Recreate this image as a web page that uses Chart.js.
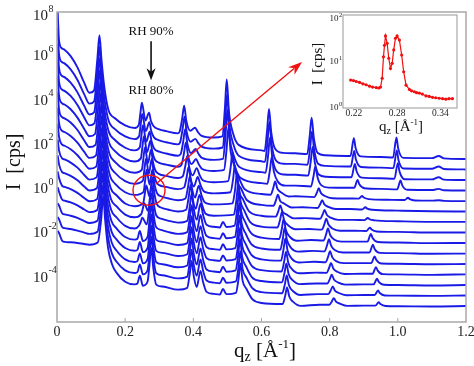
<!DOCTYPE html>
<html>
<head>
<meta charset="utf-8">
<script src="https://cdn.jsdelivr.net/npm/chart.js@4.4.0/dist/chart.umd.min.js"></script>
<style>
  html, body { margin: 0; padding: 0; background: #fff; }
  #wrap { position: relative; width: 474px; height: 366px; }
  #inset { position: absolute; left: 300px; top: 0; }
</style>
</head>
<body>
<div id="wrap">
  <canvas id="main" width="474" height="366"></canvas>
  <canvas id="inset" width="170" height="140"></canvas>
</div>
<script>
// Reflectivity scans as [qz, log10 I] (before stacking shift)
const scan0 = [[0.002,8.0],[0.006,6.7],[0.015,6.35],[0.022,6.3],[0.04,6.01],[0.06,5.5],[0.08,4.8],[0.095,4.35],[0.1085,4.45],[0.1185,5.9],[0.1245,6.95],[0.1305,5.85],[0.1385,4.65],[0.1505,3.6],[0.17,3.2],[0.2,2.88],[0.228,2.76],[0.24,2.9],[0.2445,3.41],[0.249,3.9],[0.2595,3.1],[0.27,3.45],[0.2755,3.09],[0.283,2.85],[0.3,2.7],[0.32,2.62],[0.355,2.52],[0.36,2.6],[0.3675,3.21],[0.373,3.77],[0.3795,3.08],[0.391,2.64],[0.405,2.77],[0.413,2.59],[0.423,2.42],[0.46,2.33],[0.485,2.38],[0.4925,3.63],[0.498,4.95],[0.5045,3.49],[0.516,2.55],[0.533,2.0],[0.6,1.75],[0.609,1.72],[0.6165,2.67],[0.622,3.62],[0.6285,2.58],[0.64,1.82],[0.662,1.64],[0.7,1.62],[0.734,1.58],[0.7415,2.41],[0.747,3.23],[0.7535,2.32],[0.765,1.63],[0.787,1.53],[0.85,1.5],[0.861,1.5],[0.871,2.3],[0.876,1.86],[0.891,1.48],[0.95,1.45],[0.986,1.43],[0.996,2.33],[1.001,1.84],[1.016,1.41],[1.1,1.4],[1.12,1.5],[1.135,1.39],[1.2,1.36]];
const scan1 = [[0.002,7.76],[0.006,6.56],[0.015,6.21],[0.022,6.16],[0.04,5.89],[0.06,5.41],[0.08,4.76],[0.095,4.34],[0.1088,4.44],[0.1188,5.86],[0.1248,6.91],[0.1308,5.81],[0.1388,4.61],[0.1508,3.6],[0.17,3.19],[0.2,2.86],[0.228,2.74],[0.241,2.88],[0.2455,3.39],[0.25,3.88],[0.2605,3.1],[0.271,3.5],[0.2765,3.1],[0.284,2.83],[0.3,2.68],[0.32,2.6],[0.355,2.5],[0.361,2.58],[0.3685,3.19],[0.374,3.75],[0.3805,3.06],[0.392,2.62],[0.406,2.75],[0.414,2.57],[0.424,2.4],[0.46,2.31],[0.486,2.36],[0.4935,3.53],[0.499,4.78],[0.5055,3.41],[0.517,2.53],[0.534,1.98],[0.6,1.74],[0.61,1.71],[0.6175,2.61],[0.623,3.51],[0.6295,2.52],[0.641,1.81],[0.663,1.63],[0.7,1.62],[0.735,1.58],[0.7425,2.33],[0.748,3.08],[0.7545,2.26],[0.766,1.63],[0.788,1.53],[0.85,1.5],[0.862,1.5],[0.872,2.2],[0.877,1.82],[0.892,1.48],[0.95,1.45],[0.987,1.43],[0.997,2.23],[1.002,1.79],[1.017,1.41],[1.1,1.4],[1.12,1.5],[1.135,1.39],[1.2,1.37]];
const scan2 = [[0.002,7.52],[0.006,6.42],[0.015,6.07],[0.022,6.02],[0.04,5.77],[0.06,5.33],[0.08,4.72],[0.095,4.33],[0.109,4.43],[0.119,5.82],[0.125,6.87],[0.131,5.77],[0.139,4.57],[0.151,3.6],[0.17,3.18],[0.2,2.83],[0.228,2.71],[0.243,2.85],[0.2475,3.36],[0.252,3.85],[0.262,3.1],[0.272,3.55],[0.2775,3.11],[0.285,2.8],[0.3,2.65],[0.32,2.57],[0.355,2.47],[0.363,2.55],[0.3705,3.13],[0.376,3.67],[0.3825,3.01],[0.393,2.59],[0.407,2.77],[0.415,2.56],[0.425,2.37],[0.46,2.28],[0.487,2.33],[0.4945,3.4],[0.5,4.55],[0.5065,3.29],[0.518,2.5],[0.535,1.96],[0.6,1.73],[0.612,1.7],[0.6195,2.5],[0.625,3.3],[0.6315,2.42],[0.643,1.8],[0.665,1.62],[0.7,1.61],[0.737,1.57],[0.7445,2.22],[0.75,2.87],[0.7565,2.16],[0.768,1.62],[0.79,1.52],[0.85,1.5],[0.864,1.5],[0.874,2.1],[0.879,1.77],[0.894,1.48],[0.95,1.45],[0.99,1.43],[1.0,2.13],[1.005,1.75],[1.02,1.41],[1.1,1.4],[1.12,1.5],[1.135,1.39],[1.2,1.37]];
const scan3 = [[0.002,7.28],[0.006,6.28],[0.015,5.93],[0.022,5.88],[0.04,5.65],[0.06,5.24],[0.08,4.68],[0.095,4.32],[0.11,4.42],[0.12,5.78],[0.126,6.83],[0.132,5.73],[0.14,4.53],[0.152,3.57],[0.17,3.16],[0.2,2.81],[0.228,2.69],[0.246,2.83],[0.2505,3.34],[0.255,3.83],[0.2645,3.11],[0.274,3.63],[0.2795,3.14],[0.287,2.78],[0.3,2.63],[0.32,2.55],[0.355,2.45],[0.365,2.53],[0.3725,3.06],[0.378,3.55],[0.3845,2.95],[0.395,2.57],[0.408,2.8],[0.416,2.56],[0.426,2.35],[0.46,2.26],[0.49,2.31],[0.4975,3.23],[0.503,4.23],[0.5095,3.13],[0.521,2.48],[0.538,1.95],[0.6,1.71],[0.617,1.68],[0.6245,2.28],[0.63,2.88],[0.6365,2.22],[0.648,1.78],[0.67,1.6],[0.7,1.6],[0.745,1.56],[0.7525,2.01],[0.758,2.46],[0.7645,1.97],[0.776,1.61],[0.798,1.51],[0.85,1.5],[0.872,1.5],[0.882,1.85],[0.887,1.66],[0.902,1.48],[0.95,1.45],[0.998,1.43],[1.008,1.83],[1.013,1.61],[1.028,1.41],[1.1,1.4],[1.12,1.45],[1.135,1.39],[1.2,1.38]];
const scan4 = [[0.002,7.04],[0.006,6.14],[0.015,5.79],[0.022,5.74],[0.04,5.53],[0.06,5.15],[0.08,4.64],[0.095,4.31],[0.1115,4.41],[0.1215,5.74],[0.1275,6.79],[0.1335,5.69],[0.1415,4.49],[0.1535,3.53],[0.17,3.15],[0.2,2.78],[0.228,2.66],[0.249,2.8],[0.2535,3.31],[0.258,3.8],[0.267,3.1],[0.276,3.7],[0.2815,3.15],[0.289,2.75],[0.3,2.6],[0.32,2.52],[0.355,2.42],[0.369,2.5],[0.3765,2.97],[0.382,3.42],[0.3885,2.87],[0.398,2.54],[0.41,2.87],[0.418,2.57],[0.428,2.32],[0.46,2.23],[0.502,2.28],[0.5095,2.9],[0.515,3.6],[0.5215,2.83],[0.533,2.45],[0.55,1.93],[0.6,1.7],[0.627,1.67],[0.6345,1.97],[0.64,2.27],[0.6465,1.94],[0.658,1.77],[0.68,1.59],[0.7,1.6],[0.755,1.56],[0.7625,1.76],[0.768,1.96],[0.7745,1.74],[0.786,1.61],[0.808,1.51],[0.85,1.5],[0.885,1.49],[0.895,1.61],[0.9,1.54],[0.915,1.47],[0.97,1.44],[1.02,1.43],[1.03,1.53],[1.035,1.47],[1.05,1.41],[1.1,1.4],[1.12,1.42],[1.135,1.39],[1.2,1.38]];
const scan5 = [[0.002,6.8],[0.006,6.0],[0.015,5.65],[0.022,5.6],[0.04,5.41],[0.06,5.07],[0.08,4.6],[0.095,4.3],[0.113,4.4],[0.123,5.7],[0.129,6.75],[0.135,5.65],[0.143,4.45],[0.155,3.49],[0.17,3.14],[0.2,2.76],[0.228,2.64],[0.252,2.78],[0.2565,3.29],[0.261,3.78],[0.2695,3.1],[0.278,3.76],[0.2835,3.17],[0.291,2.73],[0.3,2.58],[0.32,2.5],[0.355,2.4],[0.373,2.48],[0.3805,2.95],[0.386,3.4],[0.3925,2.85],[0.4015,2.52],[0.413,2.95],[0.421,2.59],[0.431,2.3],[0.46,2.21],[0.509,2.26],[0.5165,2.83],[0.522,3.48],[0.5285,2.77],[0.54,2.43],[0.557,1.91],[0.6,1.69],[0.635,1.65],[0.6425,1.9],[0.648,2.15],[0.6545,1.88],[0.666,1.75],[0.688,1.57],[0.72,1.58],[0.765,1.55],[0.7725,1.73],[0.778,1.9],[0.7845,1.71],[0.796,1.6],[0.818,1.5],[0.86,1.5],[0.895,1.48],[0.905,1.58],[0.91,1.52],[0.925,1.47],[1.0,1.43],[1.1,1.4],[1.2,1.39]];
const scan6 = [[0.002,6.56],[0.006,5.86],[0.015,5.51],[0.022,5.46],[0.04,5.28],[0.06,4.98],[0.08,4.56],[0.095,4.29],[0.114,4.39],[0.124,5.66],[0.13,6.71],[0.136,5.61],[0.144,4.41],[0.156,3.46],[0.17,3.13],[0.2,2.74],[0.228,2.62],[0.254,2.76],[0.2585,3.27],[0.263,3.76],[0.2715,3.09],[0.28,3.76],[0.2855,3.16],[0.293,2.71],[0.305,2.56],[0.325,2.47],[0.355,2.38],[0.377,2.46],[0.3845,2.99],[0.39,3.48],[0.3965,2.88],[0.405,2.5],[0.416,3.03],[0.424,2.6],[0.434,2.28],[0.46,2.19],[0.515,2.24],[0.5225,2.86],[0.528,3.56],[0.5345,2.79],[0.546,2.41],[0.563,1.89],[0.6,1.68],[0.642,1.64],[0.6495,1.89],[0.655,2.14],[0.6615,1.87],[0.673,1.74],[0.695,1.56],[0.73,1.57],[0.772,1.54],[0.7795,1.74],[0.785,1.94],[0.7915,1.72],[0.803,1.59],[0.825,1.49],[0.87,1.49],[0.902,1.48],[0.912,1.58],[0.917,1.52],[0.932,1.47],[1.0,1.43],[1.1,1.4],[1.2,1.4]];
const scan7 = [[0.002,6.32],[0.006,5.72],[0.015,5.37],[0.022,5.32],[0.04,5.16],[0.06,4.89],[0.08,4.52],[0.095,4.28],[0.115,4.38],[0.125,5.62],[0.131,6.67],[0.137,5.57],[0.145,4.37],[0.157,3.43],[0.175,3.08],[0.2,2.71],[0.228,2.59],[0.253,2.73],[0.2575,3.13],[0.262,3.53],[0.271,3.03],[0.28,3.88],[0.2855,3.19],[0.293,2.68],[0.305,2.53],[0.325,2.44],[0.355,2.35],[0.379,2.43],[0.3865,3.01],[0.392,3.55],[0.3985,2.89],[0.407,2.47],[0.418,3.1],[0.426,2.63],[0.436,2.25],[0.46,2.16],[0.519,2.21],[0.5265,2.88],[0.532,3.63],[0.5385,2.81],[0.55,2.38],[0.567,1.87],[0.6,1.67],[0.647,1.63],[0.6545,1.98],[0.66,2.33],[0.6665,1.95],[0.678,1.73],[0.7,1.55],[0.74,1.56],[0.777,1.53],[0.7845,1.78],[0.79,2.03],[0.7965,1.76],[0.808,1.58],[0.83,1.48],[0.875,1.48],[0.908,1.47],[0.918,1.62],[0.923,1.54],[0.938,1.45],[1.0,1.43],[1.1,1.4],[1.2,1.4]];
const scan8 = [[0.002,6.08],[0.006,5.58],[0.015,5.23],[0.022,5.18],[0.04,5.04],[0.06,4.81],[0.08,4.48],[0.095,4.27],[0.116,4.37],[0.126,5.58],[0.132,6.63],[0.138,5.53],[0.146,4.33],[0.158,3.41],[0.175,3.06],[0.2,2.69],[0.228,2.57],[0.247,2.71],[0.2515,2.94],[0.256,3.21],[0.267,2.86],[0.278,4.06],[0.2835,3.26],[0.291,2.66],[0.305,2.51],[0.325,2.42],[0.355,2.33],[0.382,2.41],[0.3895,3.05],[0.395,3.63],[0.4015,2.92],[0.41,2.45],[0.421,3.18],[0.429,2.65],[0.439,2.23],[0.46,2.14],[0.478,2.11],[0.487,2.36],[0.497,2.13],[0.521,2.19],[0.5285,2.91],[0.534,3.71],[0.5405,2.83],[0.552,2.36],[0.569,1.86],[0.6,1.65],[0.652,1.59],[0.6595,2.04],[0.665,2.49],[0.6715,1.99],[0.683,1.69],[0.705,1.51],[0.745,1.54],[0.782,1.52],[0.7895,1.8],[0.795,2.07],[0.8015,1.77],[0.813,1.57],[0.835,1.47],[0.88,1.47],[0.911,1.47],[0.921,1.82],[0.926,1.63],[0.941,1.45],[1.0,1.43],[1.1,1.4],[1.2,1.41]];
const scan9 = [[0.002,5.84],[0.006,5.44],[0.015,5.09],[0.022,5.04],[0.04,4.92],[0.06,4.72],[0.08,4.44],[0.095,4.26],[0.1168,4.36],[0.1268,5.54],[0.1328,6.59],[0.1388,5.49],[0.1468,4.29],[0.1588,3.39],[0.175,3.04],[0.2,2.66],[0.228,2.54],[0.241,2.68],[0.2455,2.83],[0.25,3.03],[0.2635,2.73],[0.277,4.13],[0.2825,3.28],[0.29,2.63],[0.305,2.48],[0.325,2.39],[0.355,2.3],[0.382,2.38],[0.3895,3.02],[0.395,3.6],[0.4015,2.89],[0.41,2.42],[0.421,3.15],[0.429,2.62],[0.439,2.2],[0.46,2.11],[0.478,2.08],[0.487,2.33],[0.497,2.1],[0.522,2.16],[0.5295,2.88],[0.535,3.68],[0.5415,2.8],[0.553,2.33],[0.57,1.84],[0.6,1.64],[0.655,1.58],[0.6625,2.08],[0.668,2.58],[0.6745,2.03],[0.686,1.68],[0.708,1.5],[0.75,1.53],[0.785,1.51],[0.7925,1.79],[0.798,2.06],[0.8045,1.76],[0.816,1.56],[0.838,1.46],[0.885,1.46],[0.917,1.46],[0.927,1.81],[0.932,1.62],[0.947,1.44],[1.0,1.43],[1.1,1.4],[1.2,1.41]];
const scan10 = [[0.002,5.6],[0.006,5.3],[0.015,4.95],[0.022,4.9],[0.04,4.8],[0.06,4.63],[0.08,4.4],[0.095,4.25],[0.1175,4.35],[0.1275,5.5],[0.1335,6.55],[0.1395,5.45],[0.1475,4.25],[0.1595,3.37],[0.175,3.02],[0.2,2.64],[0.228,2.52],[0.236,2.56],[0.243,2.91],[0.252,2.46],[0.266,2.66],[0.2705,3.26],[0.277,4.16],[0.2825,3.26],[0.291,2.51],[0.31,2.42],[0.355,2.28],[0.382,2.36],[0.3895,3.0],[0.395,3.58],[0.4015,2.87],[0.41,2.4],[0.421,3.13],[0.429,2.6],[0.439,2.18],[0.46,2.09],[0.478,2.06],[0.487,2.31],[0.497,2.08],[0.523,2.14],[0.5305,2.84],[0.536,3.61],[0.5425,2.76],[0.554,2.31],[0.571,1.82],[0.6,1.63],[0.657,1.57],[0.6645,2.07],[0.67,2.57],[0.6765,2.02],[0.688,1.67],[0.71,1.49],[0.755,1.52],[0.788,1.5],[0.7955,1.75],[0.801,2.0],[0.8075,1.73],[0.819,1.55],[0.841,1.46],[0.89,1.46],[0.922,1.46],[0.932,1.76],[0.937,1.6],[0.952,1.44],[1.0,1.43],[1.1,1.41],[1.2,1.42]];
const scan11 = [[0.002,5.36],[0.006,5.16],[0.015,4.81],[0.022,4.76],[0.04,4.68],[0.06,4.55],[0.08,4.36],[0.095,4.24],[0.118,4.34],[0.128,5.46],[0.134,6.51],[0.14,5.41],[0.148,4.21],[0.16,3.36],[0.175,3.0],[0.2,2.62],[0.228,2.5],[0.236,2.54],[0.243,2.89],[0.252,2.44],[0.266,2.64],[0.2705,3.24],[0.277,4.14],[0.2825,3.24],[0.291,2.49],[0.31,2.4],[0.355,2.26],[0.382,2.34],[0.3895,2.98],[0.395,3.56],[0.4015,2.85],[0.41,2.38],[0.421,3.11],[0.429,2.58],[0.439,2.16],[0.46,2.07],[0.478,2.04],[0.487,2.29],[0.497,2.06],[0.524,2.12],[0.5315,2.79],[0.537,3.54],[0.5435,2.72],[0.555,2.29],[0.572,1.8],[0.6,1.62],[0.659,1.56],[0.6665,2.01],[0.672,2.46],[0.6785,1.96],[0.69,1.66],[0.712,1.48],[0.76,1.51],[0.791,1.5],[0.7985,1.73],[0.804,1.95],[0.8105,1.7],[0.822,1.55],[0.844,1.45],[0.895,1.46],[0.926,1.46],[0.936,1.76],[0.941,1.6],[0.956,1.44],[1.0,1.43],[1.1,1.41],[1.2,1.43]];
const scan12 = [[0.002,5.12],[0.006,5.02],[0.015,4.67],[0.022,4.62],[0.04,4.56],[0.06,4.46],[0.08,4.32],[0.095,4.23],[0.1185,4.33],[0.1285,5.42],[0.1345,6.47],[0.1405,5.37],[0.1485,4.17],[0.1605,3.35],[0.175,2.98],[0.2,2.59],[0.228,2.47],[0.236,2.51],[0.243,2.86],[0.252,2.41],[0.266,2.61],[0.2705,3.21],[0.277,4.11],[0.2825,3.21],[0.291,2.46],[0.31,2.37],[0.355,2.23],[0.382,2.31],[0.3895,2.95],[0.395,3.53],[0.4015,2.82],[0.41,2.35],[0.421,3.08],[0.429,2.55],[0.439,2.13],[0.46,2.04],[0.478,2.01],[0.487,2.26],[0.497,2.03],[0.524,2.09],[0.5315,2.76],[0.537,3.51],[0.5435,2.69],[0.555,2.26],[0.572,1.78],[0.6,1.61],[0.66,1.55],[0.6675,1.98],[0.673,2.4],[0.6795,1.93],[0.691,1.65],[0.713,1.47],[0.76,1.5],[0.793,1.5],[0.8005,1.7],[0.806,1.9],[0.8125,1.68],[0.824,1.55],[0.846,1.45],[0.9,1.46],[0.929,1.46],[0.939,1.71],[0.944,1.57],[0.959,1.44],[1.0,1.43],[1.1,1.41],[1.2,1.43]];
const scan13 = [[0.002,4.98],[0.006,4.88],[0.015,4.53],[0.022,4.48],[0.04,4.44],[0.06,4.37],[0.08,4.28],[0.095,4.22],[0.119,4.32],[0.129,5.38],[0.135,6.43],[0.141,5.33],[0.149,4.13],[0.161,3.34],[0.175,2.96],[0.2,2.57],[0.228,2.45],[0.236,2.49],[0.243,2.84],[0.252,2.39],[0.266,2.59],[0.2705,3.19],[0.277,4.09],[0.2825,3.19],[0.291,2.44],[0.31,2.35],[0.355,2.21],[0.382,2.29],[0.3895,2.93],[0.395,3.51],[0.4015,2.8],[0.41,2.33],[0.421,3.06],[0.429,2.53],[0.439,2.11],[0.46,2.02],[0.478,1.99],[0.487,2.24],[0.497,2.01],[0.525,2.07],[0.5325,2.72],[0.538,3.44],[0.5445,2.64],[0.556,2.24],[0.573,1.77],[0.6,1.59],[0.661,1.54],[0.6685,1.94],[0.674,2.34],[0.6805,1.9],[0.692,1.64],[0.714,1.46],[0.765,1.5],[0.796,1.5],[0.8035,1.68],[0.809,1.85],[0.8155,1.66],[0.827,1.55],[0.849,1.45],[0.9,1.46],[0.932,1.46],[0.942,1.66],[0.947,1.55],[0.962,1.44],[1.0,1.43],[1.1,1.42],[1.2,1.44]];
const scan14 = [[0.002,4.84],[0.006,4.74],[0.015,4.39],[0.022,4.34],[0.04,4.32],[0.06,4.29],[0.08,4.24],[0.095,4.21],[0.1195,4.31],[0.1295,5.34],[0.1355,6.39],[0.1415,5.29],[0.1495,4.09],[0.1615,3.33],[0.175,2.94],[0.2,2.54],[0.228,2.42],[0.236,2.46],[0.243,2.81],[0.252,2.36],[0.266,2.56],[0.2705,3.16],[0.277,4.06],[0.2825,3.16],[0.291,2.41],[0.31,2.32],[0.355,2.18],[0.382,2.26],[0.3895,2.9],[0.395,3.48],[0.4015,2.77],[0.41,2.3],[0.421,3.03],[0.429,2.5],[0.439,2.08],[0.46,1.99],[0.478,1.96],[0.487,2.21],[0.497,1.98],[0.525,2.04],[0.5325,2.66],[0.538,3.36],[0.5445,2.59],[0.556,2.21],[0.573,1.75],[0.6,1.58],[0.662,1.53],[0.6695,1.9],[0.675,2.28],[0.6815,1.87],[0.693,1.63],[0.715,1.45],[0.77,1.5],[0.799,1.5],[0.8065,1.65],[0.812,1.8],[0.8185,1.64],[0.83,1.55],[0.852,1.45],[0.9,1.46],[0.934,1.46],[0.944,1.61],[0.949,1.53],[0.964,1.44],[1.0,1.43],[1.1,1.42],[1.2,1.44]];

// vertical offset of each scan, in decades (RH 90% on top, RH 80% at the bottom)
const shifts = [0, 0.48, 0.96, 1.44, 1.92, 2.4, 2.88, 3.36, 3.84, 4.32, 4.8, 5.28, 5.76, 6.24, 6.72];

const xTicks = [0, 0.2, 0.4, 0.6, 0.8, 1.0, 1.2];
const xTickLabels = ['0', '0.2', '0.4', '0.6', '0.8', '1.0', '1.2'];
const yExponents = [8, 6, 4, 2, 0, -2, -4];

// inset: one scan around the 2nd order peak, unshifted
const insetQ = [0.2156, 0.2195, 0.2234, 0.228, 0.2326, 0.237, 0.2418, 0.246, 0.251, 0.2545, 0.257, 0.2593, 0.2611, 0.2625, 0.2639, 0.2662, 0.2684, 0.2708, 0.2731, 0.2753, 0.2777, 0.28, 0.2832, 0.2863, 0.2891, 0.2924, 0.297, 0.3, 0.3039, 0.307, 0.3108, 0.315, 0.32, 0.3245, 0.3291, 0.3335, 0.3383, 0.343, 0.3476, 0.352, 0.3567];
const insetLogI = [0.60, 0.59, 0.57, 0.55, 0.52, 0.50, 0.47, 0.45, 0.44, 0.43, 0.45, 0.64, 1.10, 1.35, 1.55, 1.39, 1.07, 0.85, 0.96, 1.25, 1.50, 1.55, 1.46, 1.14, 0.78, 0.49, 0.40, 0.37, 0.35, 0.33, 0.32, 0.30, 0.26, 0.25, 0.23, 0.22, 0.21, 0.20, 0.19, 0.20, 0.20];
const insetXTicks = [0.22, 0.28, 0.34];
const insetXTickLabels = ['0.22', '0.28', '0.34'];
const insetYExponents = [2, 1, 0];

const scans = [scan0, scan1, scan2, scan3, scan4, scan5, scan6, scan7, scan8, scan9, scan10, scan11, scan12, scan13, scan14];

const serif = '"Liberation Serif", "DejaVu Serif", serif';
const blue = '#1a1ae6';
const red = '#f01010';
const frameGray = '#a8a8a8';

function power(ctx, exp, xRight, yMid, size, expSize, rise) {
    ctx.fillStyle = '#222';
    ctx.textBaseline = 'middle';
    ctx.font = `${size}px ${serif}`;
    ctx.textAlign = 'right';
    ctx.fillText('10', xRight, yMid);
    ctx.font = `${expSize}px ${serif}`;
    ctx.textAlign = 'left';
    ctx.fillText(String(exp), xRight + 0.5, yMid - rise);
}

// draws a run of text pieces (for sub/superscripts) centred on cx
function textRuns(ctx, runs, cx, baseline) {
    ctx.textBaseline = 'alphabetic';
    ctx.textAlign = 'left';
    let total = 0;
    runs.forEach(r => { ctx.font = `${r.size}px ${serif}`; r.w = ctx.measureText(r.t).width; total += r.w; });
    let x = cx - total / 2;
    runs.forEach(r => {
        ctx.font = `${r.size}px ${serif}`;
        ctx.fillText(r.t, x, baseline + r.dy);
        x += r.w;
    });
}

function xLabels(ctx, scale, values, labels, yMid, size) {
    ctx.fillStyle = '#222';
    ctx.font = `${size}px ${serif}`;
    ctx.textAlign = 'center';
    ctx.textBaseline = 'middle';
    values.forEach((v, i) => ctx.fillText(labels[i], scale.getPixelForValue(v), yMid));
}

function arrowHead(ctx, x1, y1, x2, y2, len, half) {
    const a = Math.atan2(y2 - y1, x2 - x1);
    const c = Math.cos(a), s = Math.sin(a);
    const bx = x2 - len * c, by = y2 - len * s;
    const nx = x2 - len * 0.7 * c, ny = y2 - len * 0.7 * s;
    ctx.beginPath();
    ctx.moveTo(x2, y2);
    ctx.lineTo(bx - half * s, by + half * c);
    ctx.lineTo(nx, ny);
    ctx.lineTo(bx + half * s, by - half * c);
    ctx.closePath();
    ctx.fill();
}

const mainDecor = {
    id: 'mainDecor',
    afterDatasetsDraw(chart) {
        const { ctx, scales: { x, y } } = chart;
        ctx.save();
        // red ellipse around the 2nd order double peak
        ctx.strokeStyle = red;
        ctx.lineWidth = 1.4;
        ctx.beginPath();
        ctx.ellipse(x.getPixelForValue(0.27), y.getPixelForValue(10 ** -0.05), 16, 15, 0, 0, Math.PI * 2);
        ctx.stroke();
        // red arrow towards the inset
        const x1 = x.getPixelForValue(0.29), y1 = y.getPixelForValue(10 ** 0.23);
        const x2 = x.getPixelForValue(0.719), y2 = y.getPixelForValue(10 ** 5.74);
        ctx.beginPath();
        ctx.moveTo(x1, y1);
        ctx.lineTo(x2 - 8, y2 + 6.5);
        ctx.stroke();
        ctx.fillStyle = red;
        arrowHead(ctx, x1, y1, x2, y2, 14, 5);
        // black arrow RH 90% -> RH 80%
        const ax = x.getPixelForValue(0.276);
        const ay1 = y.getPixelForValue(10 ** 6.68), ay2 = y.getPixelForValue(10 ** 4.92);
        ctx.strokeStyle = '#111';
        ctx.fillStyle = '#111';
        ctx.lineWidth = 1.6;
        ctx.beginPath();
        ctx.moveTo(ax, ay1);
        ctx.lineTo(ax, ay2 - 8);
        ctx.stroke();
        arrowHead(ctx, ax, ay1, ax, ay2, 12, 4.5);
        ctx.font = `13px ${serif}`;
        ctx.textAlign = 'center';
        ctx.textBaseline = 'middle';
        ctx.fillText('RH 90%', ax, y.getPixelForValue(10 ** 7.13));
        ctx.fillText('RH 80%', ax, y.getPixelForValue(10 ** 4.47));
        ctx.restore();
    },
    afterDraw(chart) {
        const { ctx, chartArea: a, scales: { x, y } } = chart;
        ctx.save();
        ctx.strokeStyle = frameGray;
        ctx.lineWidth = 1.5;
        ctx.strokeRect(a.left, a.top, a.right - a.left, a.bottom - a.top);
        ctx.lineWidth = 1;
        xTicks.slice(1, -1).forEach(v => {
            const px = x.getPixelForValue(v);
            ctx.beginPath();
            ctx.moveTo(px, a.bottom);
            ctx.lineTo(px, a.bottom - 4);
            ctx.stroke();
        });
        xLabels(ctx, x, xTicks, xTickLabels, a.bottom + 10, 14);
        yExponents.forEach(e => {
            const py = Math.max(y.getPixelForValue(10 ** e), a.top + 4);
            power(ctx, e, 48, py, 15, 10, 7);
        });
        // axis titles
        ctx.fillStyle = '#111';
        textRuns(ctx, [
            { t: 'q', size: 21, dy: 0 },
            { t: 'z', size: 14, dy: 4 },
            { t: ' [Å', size: 21, dy: 0 },
            { t: '-1', size: 13, dy: -9 },
            { t: ']', size: 21, dy: 0 }
        ], 265, 357);
        ctx.save();
        ctx.translate(15, 162);
        ctx.rotate(-Math.PI / 2);
        ctx.font = `20px ${serif}`;
        ctx.textAlign = 'center';
        ctx.textBaseline = 'middle';
        ctx.fillText('I  [cps]', 0, 0);
        ctx.restore();
        ctx.restore();
    }
};

new Chart(document.getElementById('main'), {
    type: 'line',
    data: {
        datasets: scans.map((scan, k) => ({
            data: scan.map(([q, e]) => ({ x: q, y: Math.pow(10, e - shifts[k]) })),
            borderColor: blue,
            borderWidth: 1.9,
            pointRadius: 0,
            fill: false,
            cubicInterpolationMode: 'monotone'
        }))
    },
    options: {
        responsive: false,
        animation: false,
        devicePixelRatio: 1,
        layout: { padding: { top: 12, right: 8, left: 0, bottom: 0 } },
        plugins: { legend: { display: false }, tooltip: { enabled: false } },
        scales: {
            x: {
                type: 'linear',
                min: 0,
                max: 1.2,
                grid: { display: false },
                border: { display: false },
                ticks: { display: false },
                afterFit: scale => { scale.height = 44; }
            },
            y: {
                type: 'logarithmic',
                min: 1e-6,
                max: 1e8,
                grid: { display: false },
                border: { display: false },
                ticks: { display: false },
                afterFit: scale => { scale.width = 57; }
            }
        }
    },
    plugins: [mainDecor]
});

const insetDecor = {
    id: 'insetDecor',
    afterDraw(chart) {
        const { ctx, chartArea: a, scales: { x, y } } = chart;
        ctx.save();
        ctx.strokeStyle = frameGray;
        ctx.lineWidth = 1.2;
        ctx.strokeRect(a.left, a.top, a.right - a.left, a.bottom - a.top);
        xLabels(ctx, x, insetXTicks, insetXTickLabels, a.bottom + 5, 9.5);
        insetYExponents.forEach(e => {
            const py = Math.max(y.getPixelForValue(10 ** e), a.top + 4);
            power(ctx, e, 38.5, py, 9, 6.5, 3.5);
        });
        ctx.fillStyle = '#111';
        textRuns(ctx, [
            { t: 'q', size: 15, dy: 0 },
            { t: 'z', size: 10, dy: 3 },
            { t: ' [Å', size: 15, dy: 0 },
            { t: '-1', size: 9, dy: -6 },
            { t: ']', size: 15, dy: 0 }
        ], 101, 131);
        ctx.save();
        ctx.translate(18, 64);
        ctx.rotate(-Math.PI / 2);
        ctx.font = `15px ${serif}`;
        ctx.textAlign = 'center';
        ctx.textBaseline = 'middle';
        ctx.fillText('I  [cps]', 0, 0);
        ctx.restore();
        ctx.restore();
    }
};

new Chart(document.getElementById('inset'), {
    type: 'line',
    data: {
        datasets: [{
            data: insetQ.map((q, i) => ({ x: q, y: Math.pow(10, insetLogI[i]) })),
            borderColor: red,
            backgroundColor: red,
            borderWidth: 1.2,
            pointRadius: 1.6,
            pointBorderWidth: 0,
            pointBackgroundColor: red,
            fill: false,
            tension: 0
        }]
    },
    options: {
        responsive: false,
        animation: false,
        devicePixelRatio: 1,
        layout: { padding: { top: 15, right: 13, left: 0, bottom: 0 } },
        plugins: { legend: { display: false }, tooltip: { enabled: false } },
        scales: {
            x: {
                type: 'linear',
                min: 0.205,
                max: 0.363,
                grid: { display: false },
                border: { display: false },
                ticks: { display: false },
                afterFit: scale => { scale.height = 32; }
            },
            y: {
                type: 'logarithmic',
                min: 1,
                max: 100,
                grid: { display: false },
                border: { display: false },
                ticks: { display: false },
                afterFit: scale => { scale.width = 43; }
            }
        }
    },
    plugins: [insetDecor]
});
</script>
</body>
</html>
